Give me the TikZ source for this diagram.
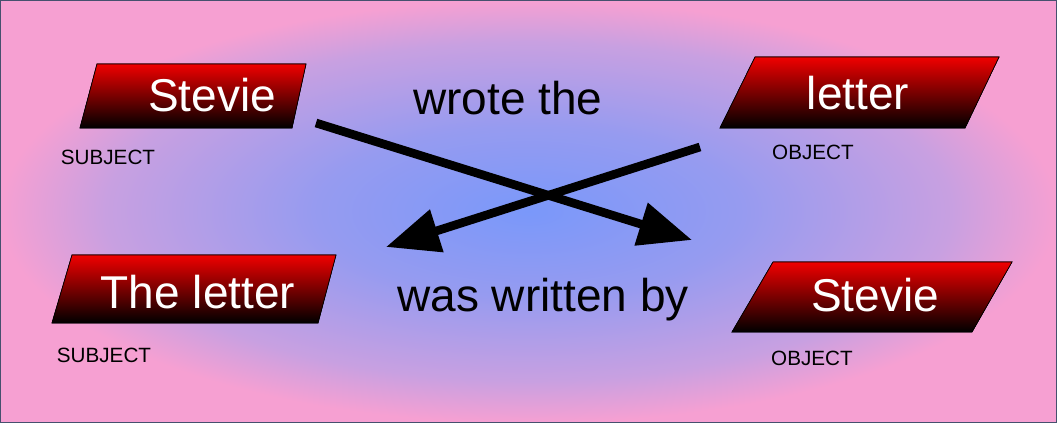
\documentclass[tikz,border=0pt]{standalone}
\usepackage{fontspec}
\setmainfont{Liberation Sans}
\usetikzlibrary{arrows.meta}
\definecolor{rtop}{HTML}{F00000}
\definecolor{bga}{RGB}{122,152,250}
\definecolor{bgb}{RGB}{150,155,240}
\definecolor{bgc}{RGB}{200,160,225}
\definecolor{bgd}{RGB}{246,160,210}
\definecolor{frame}{RGB}{70,80,110}
\pgfdeclareradialshading{bgshade}{\pgfpoint{0bp}{0bp}}{%
  color(0bp)=(bga); color(10bp)=(bgb); color(20bp)=(bgc);
  color(25bp)=(bgd); color(50bp)=(bgd)}
\begin{document}
\begin{tikzpicture}[x=0.75pt,y=-0.75pt,
  para/.style={top color=rtop,bottom color=black,draw=black,line width=0.5pt},
  big/.style={font=\fontsize{34.5}{38}\selectfont},
  wbig/.style={big,text=white},
  lab/.style={font=\fontsize{15.5}{17}\selectfont},
  arr/.style={line width=6.5pt,-{Triangle[length=40pt,width=32pt]}}]
\useasboundingbox (0,0) rectangle (1057,423);
\shade[shading=bgshade] (0,0) rectangle (1057,423);
\draw[frame,line width=0.8pt] (0.5,0.5) rectangle (1056.5,422.5);
\shade[para] (97,64)--(306,64)--(292,128)--(80,128)--cycle;
\shade[para] (755,57)--(999,57)--(965,128)--(720,128)--cycle;
\shade[para] (72,255)--(336,255)--(318,323)--(52,323)--cycle;
\shade[para] (773,262)--(1012,262)--(972,332)--(732,332)--cycle;
\draw[para,fill=none] (97,64)--(306,64)--(292,128)--(80,128)--cycle;
\draw[para,fill=none] (755,57)--(999,57)--(965,128)--(720,128)--cycle;
\draw[para,fill=none] (72,255)--(336,255)--(318,323)--(52,323)--cycle;
\draw[para,fill=none] (773,262)--(1012,262)--(972,332)--(732,332)--cycle;
\node[wbig] (s1) at (212,95) {Stevie};
\node[wbig] (l1) at (858,93) {letter};
\node[wbig] (l2) at (198,292) {The letter};
\node[wbig] (s2) at (875,295) {Stevie};
\node[lab] (sub1) at (108,157) {SUBJECT};
\node[lab] (obj1) at (813,152) {OBJECT};
\node[lab] (sub2) at (104,355) {SUBJECT};
\node[lab] (obj2) at (812,358) {OBJECT};
\node[big] (wt) at (508,98) {wrote the};
\node[big] (wb) at (543,300) {was written by};
\coordinate (a1) at (316,123); \coordinate (a2) at (692,240);
\coordinate (b1) at (700,147); \coordinate (b2) at (386,247);
\draw[arr] (a1) -- (a2);
\draw[arr] (b1) -- (b2);
\end{tikzpicture}
\end{document}
